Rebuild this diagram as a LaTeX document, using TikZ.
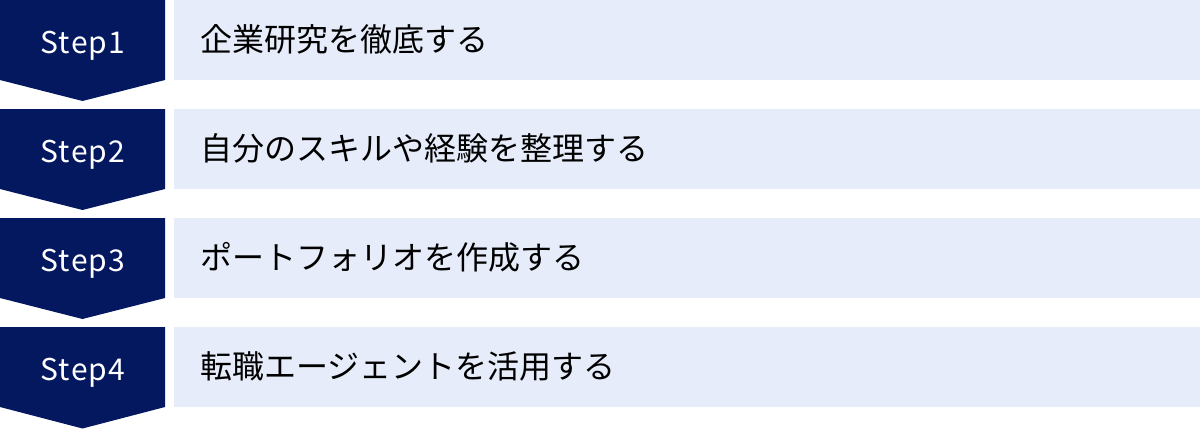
\documentclass[tikz,border=0pt]{standalone}
\usepackage{fontspec}
\usepackage{tikz}
\usetikzlibrary{positioning}
\newfontfamily\jpfont{Noto Sans CJK JP}
\newfontfamily\stepfont[LetterSpace=4]{Noto Sans CJK JP}
\definecolor{stepnavy}{RGB}{4,24,96}
\definecolor{steplight}{RGB}{230,236,249}
\tikzset{
  stepshape/.style={fill=stepnavy},
  steplabel/.style={anchor=base, text=white, inner sep=0pt,
    font=\stepfont\fontsize{30}{30}\selectfont},
  stepbody/.style={anchor=north west, fill=steplight, inner sep=0pt,
    minimum width=1026pt, minimum height=80pt},
  bodytext/.style={anchor=base west, text=black, inner sep=0pt,
    font=\jpfont\fontsize{32}{32}\selectfont},
}

\begin{document}
\begin{tikzpicture}[x=1pt,y=1pt]
\useasboundingbox (0,0) rectangle (1200,-429);
% Step1
\fill[stepshape] (0,0) -- (165,0) -- (165,-80) -- (82.5,-101) -- (0,-80) -- cycle;
\node[steplabel] (s1) at (83,-53) {Step1};
\node[stepbody] (b1) at (174,0) {};
\node[bodytext] (t1) at (200,-51) {企業研究を徹底する};
% Step2
\fill[stepshape] (0,-109) -- (165,-109) -- (165,-189) -- (82.5,-210) -- (0,-189) -- cycle;
\node[steplabel] (s2) at (83,-162) {Step2};
\node[stepbody] (b2) at (174,-109) {};
\node[bodytext] (t2) at (200,-160) {自分のスキルや経験を整理する};
% Step3
\fill[stepshape] (0,-218) -- (165,-218) -- (165,-298) -- (82.5,-319) -- (0,-298) -- cycle;
\node[steplabel] (s3) at (83,-271) {Step3};
\node[stepbody] (b3) at (174,-218) {};
\node[bodytext] (t3) at (200,-269) {ポートフォリオを作成する};
% Step4
\fill[stepshape] (0,-327) -- (165,-327) -- (165,-407) -- (82.5,-428.5) -- (0,-407) -- cycle;
\node[steplabel] (s4) at (83,-380) {Step4};
\node[stepbody] (b4) at (174,-327) {};
\node[bodytext] (t4) at (200,-378) {転職エージェントを活用する};
\end{tikzpicture}
\end{document}
